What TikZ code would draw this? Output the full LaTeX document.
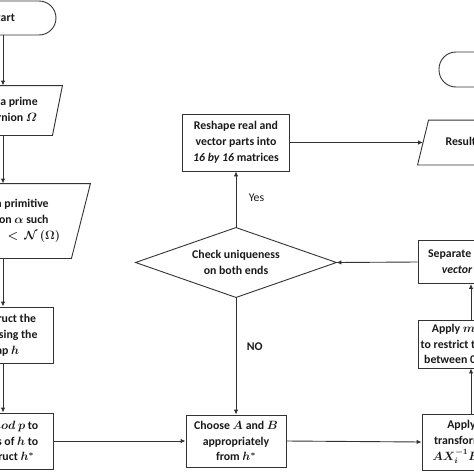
\documentclass[tikz,border=0pt]{standalone}
\usepackage{amsmath,bm}
\usepackage{fontspec}
\setmainfont{Carlito}
\usetikzlibrary{shapes.geometric,arrows.meta}
\definecolor{ln}{HTML}{333333}
\definecolor{tx}{HTML}{1A1A1A}
\newcommand\paral[2]{\draw ([xshift=#2]#1.north west) -- ([xshift=#2]#1.north east) -- ([xshift=-#2]#1.south east) -- ([xshift=-#2]#1.south west) -- cycle;}
\begin{document}
\begin{tikzpicture}[x=1pt,y=-1pt,line width=0.9pt,draw=ln,
  font=\fontsize{11.8}{15.8}\selectfont\bfseries\boldmath,
  box/.style={draw=ln,rectangle,align=center,inner sep=0pt,text=tx},
  pbox/.style={rectangle,align=center,inner sep=0pt,text=tx},
  term/.style={draw=ln,rectangle,rounded corners=17pt,align=center,inner sep=0pt,text=tx},
  arr/.style={draw=ln,-{Latex[length=5pt,width=4.5pt]}},
  lab/.style={text=tx}]
\useasboundingbox (0,0) rectangle (474,474);
\clip (0,0) rectangle (474,474);
\fill[white] (0,0) rectangle (474,474);
% left column
\node[term,minimum width=106,minimum height=34] (start) at (3,18) {Start};
\node[pbox,minimum width=108,minimum height=49] (p1) at (3,110.5) {Select a prime\\quaternion $\bm{\varOmega}$};
\paral{p1}{5pt}
\node[pbox,minimum width=155,minimum height=74] (p2) at (3,221) {Choose a primitive\\quaternion $\bm{\alpha}$ such\\that $\bm{\mathcal{N}}(\alpha)\, < \,\bm{\mathcal{N}}\,(\Omega)$};
\paral{p2}{9.5pt}
\node[box,minimum width=100,minimum height=56] (b3) at (3,335) {Construct the\\keys using the\\map $\bm{h}$};
\node[box,minimum width=100,minimum height=56] (b4) at (3,441) {Use $\bm{mod\ p}$ to\\entries of $\bm{h}$ to\\construct $\bm{h^{*}}$};
% middle column
\node[box,minimum width=107,minimum height=57] (rs) at (236,142.5) {Reshape real and\\vector parts into\\\textit{16 by 16} matrices};
\node[pbox,minimum width=200,minimum height=69] (chk) at (236,262.5) {Check uniqueness\\on both ends};
\draw (chk.north) -- (chk.east) -- (chk.south) -- (chk.west) -- cycle;
\node[box,minimum width=100,minimum height=52] (ch) at (236,441) {Choose $A$ and $B$\\appropriately\\from $\bm{h^{*}}$};
% right column
\node[term,minimum width=102,minimum height=35] (end) at (490,69.5) {End};
\node[pbox,minimum width=107,minimum height=44] (res) at (477,142.5) {Result image};
\paral{res}{5.5pt}
\node[box,minimum width=106,minimum height=43] (sep) at (471,262) {Separate real and\\\textit{vector} parts};
\node[box,minimum width=106,minimum height=48] (am) at (471,344) {Apply $\bm{mod}$ 256\\to restrict the values\\between 0 and 255};
\node[box,minimum width=98,minimum height=56] (tr) at (471,442) {Apply the\\transformation\\$\bm{AX_i^{-1}B = Y_i}$};
% connectors
\draw[arr] (start) -- (p1);
\draw[arr] (p1) -- (p2);
\draw[arr] (p2) -- (b3);
\draw[arr] (b3) -- (b4);
\draw[arr] (b4.east) -- (ch.west);
\draw[arr] (chk.north) -- node[lab,right=9pt,pos=0.54,font=\fontsize{11.8}{14}\selectfont] {Yes} (rs.south);
\draw[arr] (chk.south) -- node[lab,right=7pt,pos=0.42] {NO} (ch.north);
\draw[arr] (rs.east) -- (res.west);
\draw[arr] (ch.east) -- (tr.west);
\draw[arr] (tr.north) -- (am.south);
\draw[arr] (am.north) -- (sep.south);
\draw[arr] (sep.west) -- (chk.east);
\end{tikzpicture}
\end{document}
